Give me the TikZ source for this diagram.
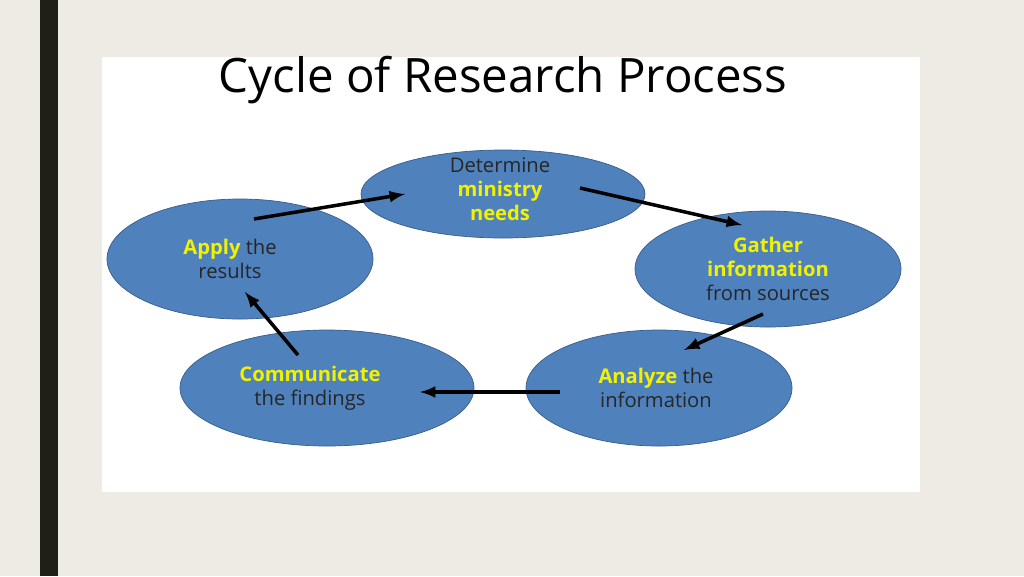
\documentclass[tikz,border=0pt]{standalone}
\usepackage{fontspec}
\setmainfont{Open Sans}
\definecolor{pagebg}{HTML}{EEEBE4}
\definecolor{barcol}{HTML}{1F1F17}
\definecolor{blobfill}{HTML}{4F81BD}
\definecolor{blobdraw}{HTML}{385D8A}
\definecolor{hilite}{HTML}{F2F200}
\newcommand{\hl}[1]{\textcolor{hilite}{\textbf{#1}}}
\begin{document}
\begin{tikzpicture}[x=0.02cm,y=-0.02cm]
      \tikzset{stage/.style = {ellipse,fill=blobfill,draw=blobdraw,line width=1pt,minimum width=#1}}
      \tikzset{label/.style = {align=center,text=black!85,font=\fontsize{11.5}{13.5}\selectfont}}
      \tikzset{edge/.style = {line width=2pt,-latex}}
      \useasboundingbox (0,0) rectangle (1024,576);
      \fill[pagebg] (0,0) rectangle (1024,576);
      \fill[barcol] (40,0) rectangle (58,576);
      \fill[white] (102,57) rectangle (920,492);
      \node[font=\fontsize{27}{30}\selectfont] (title) at (503,80) {Cycle of Research Process};

      \fill[blobfill,draw=blobdraw] (503,194) ellipse [x radius=142,y radius=44];
      \fill[blobfill,draw=blobdraw] (768,269) ellipse [x radius=133,y radius=58];
      \fill[blobfill,draw=blobdraw] (659,388) ellipse [x radius=133,y radius=58];
      \fill[blobfill,draw=blobdraw] (327,388) ellipse [x radius=147,y radius=58];
      \fill[blobfill,draw=blobdraw] (240,259) ellipse [x radius=133,y radius=60];

      \node[label] (need) at (500,189) {Determine\\\hl{ministry}\\\hl{needs}};
      \node[label] (gath) at (768,269) {\hl{Gather}\\\hl{information}\\from sources};
      \node[label] (anal) at (656,388) {\hl{Analyze} the\\information};
      \node[label] (comm) at (310,388) {\hl{Communicate}\\the findings};
      \node[label] (appl) at (230,259) {\hl{Apply} the\\results};

      \coordinate (n1) at (580,188); \coordinate (n2) at (742,225);
      \coordinate (g1) at (763,314); \coordinate (g2) at (684,350);
      \coordinate (a1) at (560,392); \coordinate (a2) at (420,392);
      \coordinate (c1) at (298,355); \coordinate (c2) at (245,292);
      \coordinate (p1) at (254,219); \coordinate (p2) at (405,194);

      \draw[edge] (n1) to (n2);
      \draw[edge] (g1) to (g2);
      \draw[edge] (a1) to (a2);
      \draw[edge] (c1) to (c2);
      \draw[edge] (p1) to (p2);
\end{tikzpicture}
\end{document}
